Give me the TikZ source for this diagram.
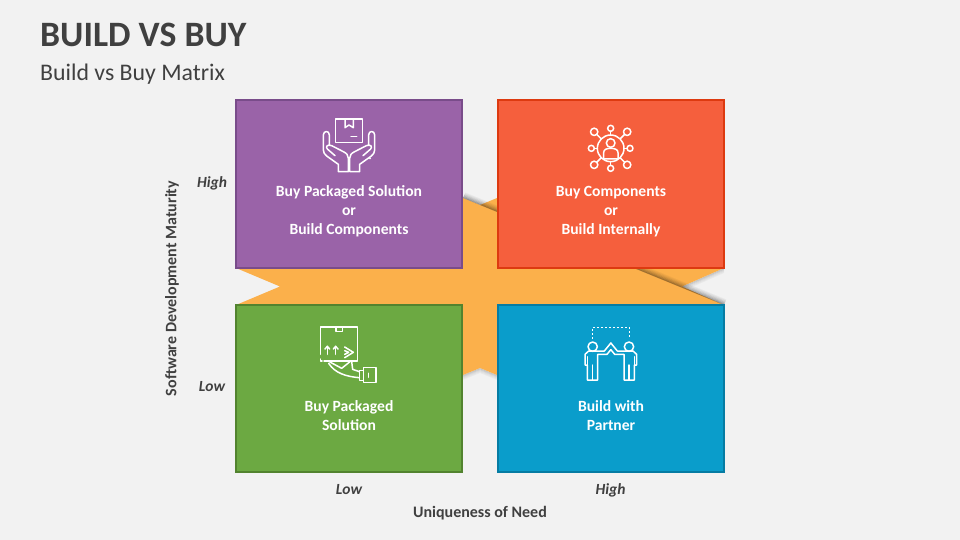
\documentclass[tikz,border=0pt]{standalone}
\usepackage{fontspec}
\setmainfont{Carlito}
\definecolor{bgc}{HTML}{F2F2F2}
\definecolor{starc}{HTML}{FBB04B}
\definecolor{ink}{HTML}{404040}
\definecolor{purf}{HTML}{9A63A8}\definecolor{purd}{HTML}{794C8A}
\definecolor{redf}{HTML}{F55F3D}\definecolor{redd}{HTML}{DD3A10}
\definecolor{grnf}{HTML}{6CA942}\definecolor{grnd}{HTML}{52832F}
\definecolor{bluf}{HTML}{0A9DCB}\definecolor{blud}{HTML}{067CA3}
\tikzset{
  x=1pt,y=-1pt,
  quad/.style={rectangle,line width=2pt,minimum width=226pt,minimum height=167pt,inner sep=0pt},
  boxtext/.style={text=white,align=center,font=\fontsize{15.6}{19}\selectfont\bfseries,inner sep=0pt},
  axislab/.style={text=ink,font=\fontsize{16}{19}\selectfont\bfseries,inner sep=0pt},
  levellab/.style={text=ink,font=\fontsize{15.5}{18}\selectfont\bfseries\itshape,inner sep=0pt},
  icon/.style={draw=white,line width=1.5pt,line join=round,line cap=round,fill=none},
}
\begin{document}
\begin{tikzpicture}
\useasboundingbox (0,0) rectangle (960,540);
\fill[bgc] (0,0) rectangle (960,540);
% title
\node[anchor=west,inner sep=0pt,text=ink,font=\fontsize{35.7}{40}\selectfont\bfseries] (title) at (40,35) {BUILD VS BUY};
\node[anchor=west,inner sep=0pt,text=ink,font=\fontsize{23.8}{28}\selectfont] (subtitle) at (40,74) {Build vs Buy Matrix};
% soft shadow under the star's lower edges
\foreach \d/\o in {0.5/.16,1.5/.12,2.5/.08,3.5/.05,4.5/.03}{
  \draw[black,opacity=\o,line width=1pt] (463,375+\d) -- (480,368+\d) -- (497,375+\d);
  \draw[black,opacity=\o,line width=1pt] (682,286.5+\d) -- (724,268+\d);
}
% star
\fill[starc] (236,268) -- (280,286.5) -- (236,305) -- (300,400) -- (463,375) -- (480,368) -- (497,375)
  -- (660,400) -- (724,305) -- (682,286.5) -- (724,268) -- (660,170) -- (497,198) -- (480,205) -- (463,198) -- (300,170) -- cycle;
% fold shadow
\foreach \d/\o in {0.5/.34,1.5/.26,2.5/.19,3.5/.13,4.5/.08,5.5/.04}{
  \draw[black,opacity=\o,line width=1.05pt,shift={(0.38*\d,-0.925*\d)}] (463,198) -- (724,305);
}
% quadrants
\node[quad,fill=purf,draw=purd] (q1) at (349,184) {};
\node[quad,fill=redf,draw=redd] (q2) at (611,184) {};
\node[quad,fill=grnf,draw=grnd] (q3) at (349,388.5) {};
\node[quad,fill=bluf,draw=blud] (q4) at (611,388.5) {};
\node[boxtext] (t1) at (349,211) {Buy Packaged Solution\\or\\Build Components};
\node[boxtext] (t2) at (611,212) {Buy Components\\or\\Build Internally};
\node[boxtext] (t3) at (349,416) {Buy Packaged\\Solution};
\node[boxtext] (t4) at (611,416) {Build with\\Partner};
% axis labels
\node[levellab] (h1) at (212,183) {High};
\node[levellab] (l1) at (212,386.5) {Low};
\node[levellab] (l2) at (349,489.5) {Low};
\node[levellab] (h2) at (610.5,490) {High};
\node[axislab] (ax) at (480,513) {Uniqueness of Need};
\node[axislab,rotate=90] (ay) at (172,288.5) {Software Development Maturity};
% icon 1: hands holding a parcel
\begin{scope}[shift={(290,105)},scale=1/3]
\draw[icon] (137,42) rectangle (218,113);
\draw[icon] (165,42) -- (165,68) -- (177,60) -- (190,68) -- (190,42);
\draw[icon] (183,95) -- (200,95);
\foreach \m/\c in {1/0,-1/354}{
\begin{scope}[shift={(\c,0)},xscale=\m]
\draw[icon] (118,118) -- (118,90) .. controls (118,76) and (100,76) .. (100,90) -- (100,135)
  .. controls (100,143) and (104,148) .. (110,153) -- (145,178) -- (145,200) -- (175,200) -- (175,160)
  .. controls (175,150) and (170,145) .. (160,140) -- (125,122) .. controls (112,117) and (106,125) .. (112,132) -- (135,152);
\end{scope}}
\fill[white] (240,160) circle (3);
\end{scope}
% icon 2: person in a network
\begin{scope}[shift={(570,110)},scale=1/3]
\draw[icon] (122,115) circle (40);
\draw[icon] (122,99) circle (13);
\draw[icon] (101,147) -- (101,128) .. controls (101,118) and (110,115) .. (122,115) .. controls (134,115) and (144,118) .. (144,128) -- (144,147) -- cycle;
\foreach \a/\r/\R in {90/9/60,-90/9/60,0/9/58,180/9/58,45/11/70,135/11/70,-45/11/70,-135/11/70}{
  \draw[icon] (122,115) ++(\a:40) -- ++(\a:\R-40-\r);
  \draw[icon] (122,115) ++(\a:\R) circle (\r);
}
\end{scope}
% icon 3: parcel handed over
\begin{scope}[shift={(300,315)},scale=1/3]
\draw[icon] (62,118) -- (62,36) -- (172,36) -- (172,138) -- (72,138);
\draw[icon] (62,132) -- (62,138) -- (66,138);
\draw[icon] (108,36) -- (108,50) -- (127,50) -- (127,36);
\foreach \x in {82,107}{
  \draw[icon] (\x,118) -- (\x,94);
  \draw[icon] (\x-7,102) -- (\x,94) -- (\x+7,102);
}
\draw[icon] (134,96) -- (160,112) -- (134,128);
\draw[icon] (134,107) -- (146,112) -- (134,118);
\draw[icon] (88,140) -- (125,160) -- (150,140);
\draw[icon] (86,145) .. controls (105,175) and (140,185) .. (178,188);
\draw[icon] (155,140) -- (158,163) -- (178,170);
\draw[icon] (178,166) rectangle (190,197);
\draw[icon] (190,157) rectangle (228,202);
\draw[icon] (205,175) -- (205,187);
\end{scope}
% icon 4: two people high five
\begin{scope}[shift={(570,315)},scale=1/3]
\draw[white,line width=1.5pt,dash pattern=on 2pt off 2pt] (68,72) -- (68,37) -- (178,37) -- (178,72);
\foreach \m/\c in {1/0,-1/245}{
\begin{scope}[shift={(\c,0)},xscale=\m]
\draw[icon] (68,95) circle (14);
\draw[icon] (122.5,84) -- (103,108) -- (56,108) -- (45,118) -- (45,150) -- (52,150) -- (52,195) -- (83,195) -- (83,118) -- (111,118) -- (122.5,104);
\draw[icon] (68,150) -- (68,195);
\draw[icon] (52,125) -- (52,150);
\end{scope}}
\end{scope}
\end{tikzpicture}
\end{document}
